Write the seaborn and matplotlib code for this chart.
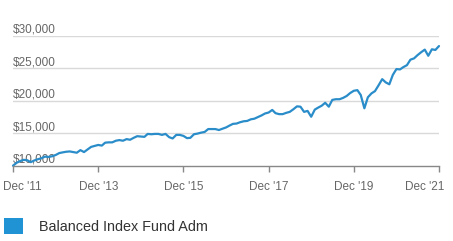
import matplotlib
matplotlib.use("Agg")
import matplotlib.pyplot as plt
import matplotlib.transforms as mtransforms
from matplotlib.patches import Patch
import seaborn as sns
import pandas as pd

series_name = "Balanced Index Fund Adm"
start_month = "2011-12-31"
values = [
    10000, 10450, 10700, 10900, 10850, 10550, 10800, 11000, 11150, 11400,
    11350, 11450, 11650, 11950, 12050, 12150, 12200, 12100, 12000, 12400,
    12100, 12500, 12900, 13050, 13200, 13100, 13550, 13600, 13600, 13850,
    13950, 13850, 14100, 14000, 14300, 14550, 14500, 14450, 14900, 14850,
    14900, 14900, 14750, 14900, 14400, 14200, 14750, 14750, 14600, 14250,
    14300, 14850, 14950, 15100, 15200, 15650, 15650, 15650, 15500, 15700,
    15900, 16200, 16450, 16500, 16700, 16850, 16900, 17150, 17250, 17500,
    17750, 18050, 18200, 18600, 18100, 17950, 17950, 18150, 18300, 18700,
    19150, 19100, 18300, 18450, 17550, 18650, 18950, 19250, 19700, 19100,
    20150, 20250, 20250, 20450, 20750, 21200, 21550, 21650, 20900, 18850,
    20550, 21150, 21500, 22400, 23350, 22850, 22550, 24000, 24900, 24850,
    25200, 25500, 26350, 26550, 27050, 27500, 27900, 26950, 27950, 27850,
    28450,
]
y_ticks = [10000, 15000, 20000, 25000, 30000]
y_tick_labels = ["$10,000", "$15,000", "$20,000", "$25,000", "$30,000"]
x_tick_dates = ["2011-12-31", "2013-12-31", "2015-12-31", "2017-12-31", "2019-12-31", "2021-12-31"]
x_tick_labels = ["Dec '11", "Dec '13", "Dec '15", "Dec '17", "Dec '19", "Dec '21"]

line_color = "#2a8dc9"
patch_color = "#1f93d3"

df = pd.DataFrame({
    "date": pd.date_range(start_month, periods=len(values), freq="ME"),
    "value": values,
})

sns.set_style("white")
plt.rcParams["font.family"] = ["Liberation Sans", "DejaVu Sans"]

fig = plt.figure(figsize=(4.53, 2.41), dpi=100)
W, H = 453, 241
left, right, bottom_px, top_px = 13, 439, 165.7, 36
ax = fig.add_axes([left / W, (H - bottom_px) / H, (right - left) / W, (bottom_px - top_px) / H])

sns.lineplot(data=df, x="date", y="value", ax=ax, color=line_color, linewidth=1.6, clip_on=False)

ax.set_xlim(df["date"].iloc[0], df["date"].iloc[-1])
ax.set_ylim(10000, 30000)

for v in y_ticks[1:]:
    ax.axhline(v, color="#d9d9d9", linewidth=1.0, zorder=0)
ax.set_yticks([])

offset = mtransforms.offset_copy(ax.get_yaxis_transform(), fig=fig, x=0, y=3, units="dots")
for v, lab in zip(y_ticks, y_tick_labels):
    ax.text(0, v, lab, transform=offset, ha="left", va="baseline",
            fontsize=8.5, color="#666666", zorder=1)

ax.set_xticks(pd.to_datetime(x_tick_dates))
ax.set_xticklabels(x_tick_labels)
ax.tick_params(axis="x", bottom=True, length=4, width=1, color="#888888",
               labelsize=8.5, labelcolor="#666666", pad=7)

xlabels = ax.get_xticklabels()
first, last = xlabels[0], xlabels[-1]
first.set_horizontalalignment("left")
first.set_transform(first.get_transform() + mtransforms.ScaledTranslation(-10 / 100, 0, fig.dpi_scale_trans))
last.set_horizontalalignment("right")
last.set_transform(last.get_transform() + mtransforms.ScaledTranslation(5 / 100, 0, fig.dpi_scale_trans))

for s in ["top", "right", "left"]:
    ax.spines[s].set_visible(False)
ax.spines["bottom"].set_color("#888888")
ax.spines["bottom"].set_linewidth(1.0)
ax.set_xlabel("")
ax.set_ylabel("")

handle = Patch(facecolor=patch_color, edgecolor="none")
fig.legend([handle], [series_name], loc="lower left",
           bbox_to_anchor=(4 / W, (H - 234) / H), frameon=False,
           fontsize=10.4, handlelength=1.3, handleheight=1.3,
           handletextpad=1.1, borderpad=0, borderaxespad=0,
           labelcolor="#333333")

fig.savefig("out.png", dpi=100)
